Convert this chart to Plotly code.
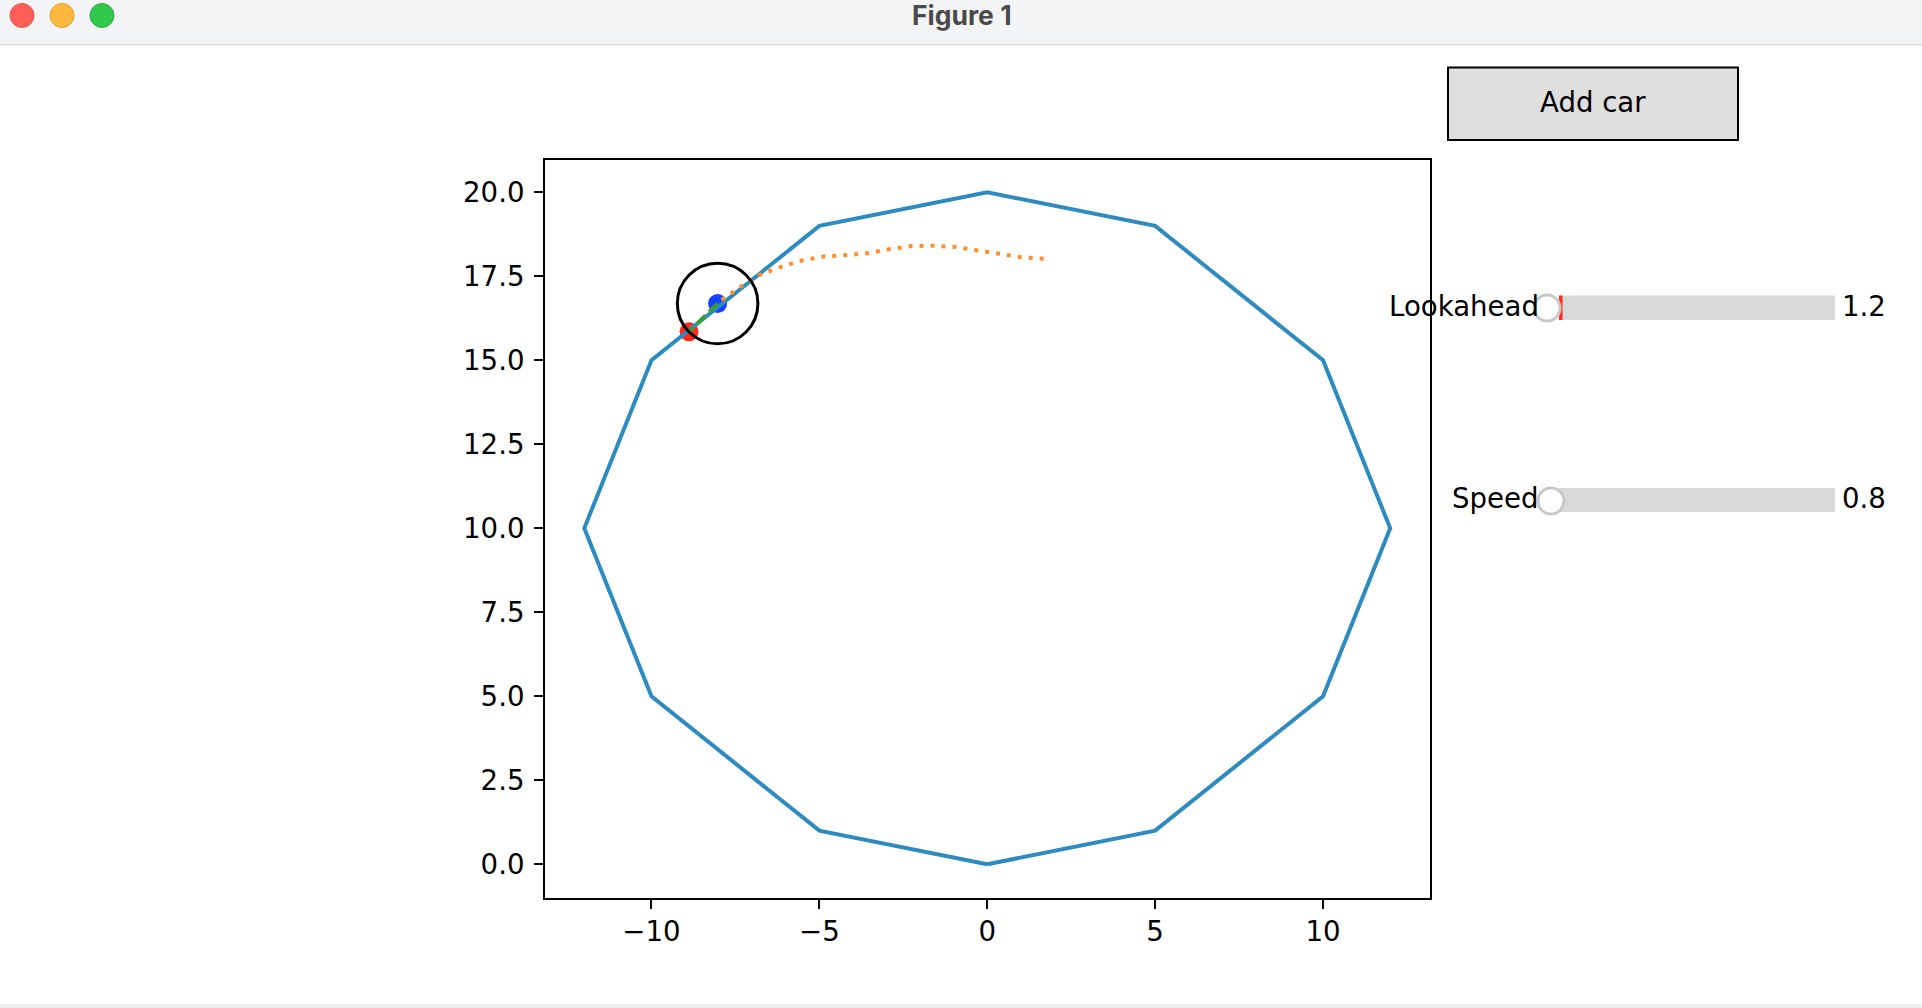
import plotly.graph_objects as go

W = 1922
H = 1008

track_x = [0, 5, 10, 12, 10, 5, 0, -5, -10, -12, -10, -5, 0]
track_y = [0, 1, 5, 10, 15, 19, 20, 19, 15, 10, 5, 1, 0]

path_x = [1.68, 0.98, 0.37, -0.29, -0.95, -1.60, -2.24, -2.89, -3.53, -4.20, -4.87, -5.52, -6.14, -6.76, -7.30, -7.85, -8.03]
path_y = [18.02, 18.07, 18.17, 18.28, 18.37, 18.41, 18.40, 18.31, 18.19, 18.13, 18.09, 17.97, 17.78, 17.55, 17.22, 16.84, 16.69]

car_x = [-8.03]
car_y = [16.69]
target_x = [-8.88]
target_y = [15.85]
lookahead = 1.2
speed = 0.8

x_ticks = [-10, -5, 0, 5, 10]
y_ticks = [0, 2.5, 5, 7.5, 10, 12.5, 15, 17.5, 20]

FONT = "DejaVu Sans"
TEXT_SIZE = 27.6


def px(x):
    return x / W


def py(y):
    return 1 - y / H


def box(x0, y0, x1, y1, fill, line="rgba(0,0,0,0)", width=0, kind="rect"):
    return dict(type=kind, xref="paper", yref="paper",
                x0=px(x0), x1=px(x1), y0=py(y0), y1=py(y1),
                fillcolor=fill, line=dict(color=line, width=width), layer="above")


def label(x, y, text, anchor="center", size=TEXT_SIZE, color="black", bold=False, family=FONT):
    return dict(xref="paper", yref="paper", x=px(x), y=py(y), text=text, showarrow=False,
                xanchor=anchor, yanchor="middle", borderpad=0, borderwidth=0,
                font=dict(family=family, size=size, color=color, weight="bold" if bold else "normal"))


fig = go.Figure()

# dots sit under the track, the pursuit line on top of it
fig.add_trace(go.Scatter(x=car_x, y=car_y, mode="markers",
                         marker=dict(color="#1540ff", size=19)))
fig.add_trace(go.Scatter(x=target_x, y=target_y, mode="markers",
                         marker=dict(color="#ff2a1a", size=19)))
fig.add_trace(go.Scatter(x=track_x, y=track_y, mode="lines",
                         line=dict(color="#2e8bc0", width=4)))
fig.add_trace(go.Scatter(x=car_x + target_x, y=car_y + target_y, mode="lines",
                         line=dict(color="#3a9b3a", width=4, dash="12px,5px")))
fig.add_trace(go.Scatter(x=path_x, y=path_y, mode="lines",
                         line=dict(color="#ff8f2b", width=4, dash="4px,7px")))

shapes = [
    # window chrome
    box(0, 0, W, 44, "#f3f4f6"),
    box(0, 44, W, 45.5, "#dcdcdc"),
    box(0, 1004, W, H, "#ededed"),
    box(10, 3.5, 34, 27.5, "#ff5f57", "#e5534b", 1, "circle"),
    box(50, 3.5, 74, 27.5, "#ffb83d", "#e09e2e", 1, "circle"),
    box(90, 3.5, 114, 27.5, "#32c84b", "#2aac3f", 1, "circle"),
    # button
    box(1448, 67.5, 1738, 140, "#dfdfdf", "black", 2),
    # sliders
    box(1559, 295.5, 1835, 320, "#d9d9d9"),
    box(1559, 295.5, 1562.5, 320, "#ff2a1a"),
    box(1534, 295, 1560, 321, "white", "#c8c8c8", 3, "circle"),
    box(1559, 488, 1835, 512, "#d9d9d9"),
    box(1538, 488, 1564, 514, "white", "#c8c8c8", 3, "circle"),
    # lookahead circle
    dict(type="circle", xref="x", yref="y",
         x0=car_x[0] - lookahead, x1=car_x[0] + lookahead,
         y0=car_y[0] - lookahead, y1=car_y[0] + lookahead,
         line=dict(color="black", width=3), layer="above"),
]

annotations = [
    label(962, 15, "Figure 1", size=26.5, color="#4a4a4a", bold=True, family="Inter"),
    label(1593, 103, "Add car"),
    label(1539, 306.5, "Lookahead", anchor="right"),
    label(1842, 306.5, f"{lookahead}", anchor="left"),
    label(1539, 498.5, "Speed", anchor="right"),
    label(1842, 498.5, f"{speed}", anchor="left"),
]

fig.update_layout(
    width=W, height=H, autosize=False, showlegend=False,
    margin=dict(l=0, r=0, t=0, b=0),
    paper_bgcolor="white", plot_bgcolor="white",
    font=dict(family=FONT, size=TEXT_SIZE, color="black"),
    shapes=shapes, annotations=annotations,
)
fig.update_xaxes(
    domain=[px(545), px(1429.5)], range=[-13.17, 13.17],
    tickmode="array", tickvals=x_ticks, ticks="outside", ticklen=9, tickwidth=2, tickcolor="black",
    ticklabelstandoff=-1,
    showgrid=False, zeroline=False, showline=True, linecolor="black", linewidth=2, mirror=True,
)
fig.update_yaxes(
    domain=[py(897.5), py(159.7)], range=[-0.99, 20.97],
    tickmode="array", tickvals=y_ticks, tickformat=".1f", ticks="outside", ticklen=9, tickwidth=2, tickcolor="black",
    ticklabelstandoff=4,
    showgrid=False, zeroline=False, showline=True, linecolor="black", linewidth=2, mirror=True,
)

fig.write_html("out.html", config=dict(displayModeBar=False),
               post_script="document.body.style.margin='0';document.body.style.overflow='hidden';")
